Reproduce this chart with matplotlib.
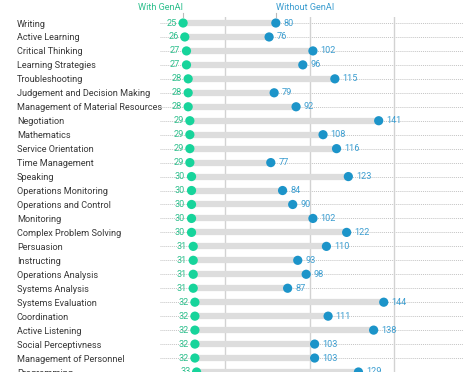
import matplotlib.pyplot as plt

plt.rcParams['font.family'] = ['Roboto', 'DejaVu Sans']

# skills, tasks with / without GenAI
skills = ["Writing", "Active Learning", "Critical Thinking", "Learning Strategies",
          "Troubleshooting", "Judgement and Decision Making",
          "Management of Material Resources", "Negotiation", "Mathematics",
          "Service Orientation", "Time Management", "Speaking",
          "Operations Monitoring", "Operations and Control", "Monitoring",
          "Complex Problem Solving", "Persuasion", "Instructing",
          "Operations Analysis", "Systems Analysis", "Systems Evaluation",
          "Coordination", "Active Listening", "Social Perceptivness",
          "Management of Personnel", "Programming"]
with_genai = [25, 26, 27, 27, 28, 28, 28, 29, 29, 29, 29, 30, 30, 30, 30, 30,
              31, 31, 31, 31, 32, 32, 32, 32, 32, 33]
without_genai = [80, 76, 102, 96, 115, 79, 92, 141, 108, 116, 77, 123, 84, 90,
                 102, 122, 110, 93, 98, 87, 144, 111, 138, 103, 103, 129]
grid_vals = [50, 100, 150]

green = '#17d49b'
green_txt = '#2cbf8c'
blue = '#1c94c9'
blue_txt = '#3b9dd0'
fs = 6.6

fig = plt.figure(figsize=(4.74, 3.72), dpi=100)
ax = fig.add_axes([160 / 474, 0, 303 / 474, 355 / 372])

rows = list(range(len(skills)))

# dotted row lines and vertical grid
for r in rows:
    ax.axhline(r, color='#c4c4c4', lw=0.7, ls=(0, (1, 1)), zorder=0)
for g in grid_vals:
    ax.axvline(g, color='#d2d2d2', lw=1, zorder=0)

ax.hlines(rows, with_genai, without_genai, color='#dddddd', lw=4.5, zorder=1)
ax.scatter(with_genai, rows, s=44, color=green, zorder=3, edgecolors='none')
ax.scatter(without_genai, rows, s=44, color=blue, zorder=3, edgecolors='none')

for r, a, b in zip(rows, with_genai, without_genai):
    ax.annotate(str(a), (a, r), xytext=(-4.5, 0), textcoords='offset points',
                ha='right', va='center', color=green_txt, fontsize=fs)
    ax.annotate(str(b), (b, r), xytext=(5.5, 0), textcoords='offset points',
                ha='left', va='center', color=blue_txt, fontsize=fs)

ax.set_xlim(11.3, 191)
ax.set_ylim(25.0, -0.43)
ax.set_yticks(rows)
ax.set_yticklabels(skills, ha='left', color='#383838', fontsize=fs)
ax.tick_params(axis='y', length=0, pad=103)
ax.set_xticks([])
for s in ax.spines.values():
    s.set_visible(False)

# column headers with small ticks
trans = ax.get_xaxis_transform()
ax.text(with_genai[0], 1 + 5 / 355, "With GenAI", transform=trans, ha='right',
        va='bottom', color=green_txt, fontsize=fs, clip_on=False)
ax.text(without_genai[0], 1 + 5 / 355, "Without GenAI", transform=trans,
        ha='left', va='bottom', color=blue_txt, fontsize=fs, clip_on=False)
ax.plot([with_genai[0]] * 2, [1, 1 + 4 / 355], transform=trans, color='#bbbbbb',
        lw=0.8, clip_on=False)
ax.plot([without_genai[0]] * 2, [1, 1 + 4 / 355], transform=trans, color='#bbbbbb',
        lw=0.8, clip_on=False)

fig.savefig('out.png', dpi=100)
